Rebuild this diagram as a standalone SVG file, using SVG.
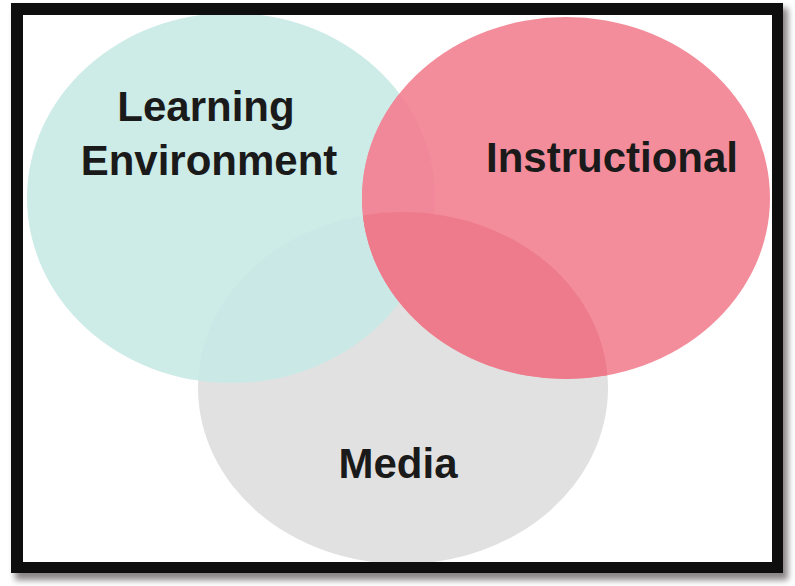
<svg xmlns="http://www.w3.org/2000/svg" width="795" height="586" viewBox="0 0 795 586">
<style>
.lbl{font-family:"Liberation Sans",Arial,sans-serif;font-weight:bold;font-size:42px;fill:#1a1a1a;text-anchor:middle}
</style>
<defs>
<filter id="sh" x="-5%" y="-5%" width="110%" height="110%"><feGaussianBlur stdDeviation="3"/></filter>
<clipPath id="inner"><rect x="23" y="15" width="749" height="547"/></clipPath>
<clipPath id="cTeal"><ellipse cx="231" cy="198" rx="204" ry="185"/></clipPath>
<clipPath id="cPink"><ellipse cx="566" cy="198" rx="204" ry="181"/></clipPath>
<clipPath id="cGray"><ellipse cx="403" cy="388" rx="205" ry="176"/></clipPath>
</defs>
<rect x="0" y="0" width="795" height="586" fill="#ffffff"/>
<rect x="15" y="8" width="773" height="572" fill="#8a8486" filter="url(#sh)"/>
<rect x="11" y="3" width="772" height="570" fill="#0e0e0e"/>
<rect x="23" y="15" width="749" height="547" fill="#ffffff"/>
<g clip-path="url(#inner)">
<g id="media">
<ellipse cx="403" cy="388" rx="205" ry="176" fill="#e1e1e1"/>
</g>
<g id="learning-environment">
<ellipse cx="231" cy="198" rx="204" ry="185" fill="#cdebe7"/>
<g clip-path="url(#cTeal)"><ellipse cx="403" cy="388" rx="205" ry="176" fill="#cae8e5"/></g>
</g>
<g id="instructional">
<ellipse cx="566" cy="198" rx="204" ry="181" fill="#f38d9b"/>
<g clip-path="url(#cPink)">
<ellipse cx="231" cy="198" rx="204" ry="185" fill="#f0889a"/>
<ellipse cx="403" cy="388" rx="205" ry="176" fill="#ee7b8c"/>
</g>
</g>
</g>
<g id="connectors"/>
<g id="labels">
<text class="lbl" x="206" y="121">Learning</text>
<text class="lbl" x="209" y="175">Environment</text>
<text class="lbl" x="612" y="172">Instructional</text>
<text class="lbl" x="398" y="478">Media</text>
</g>
</svg>
